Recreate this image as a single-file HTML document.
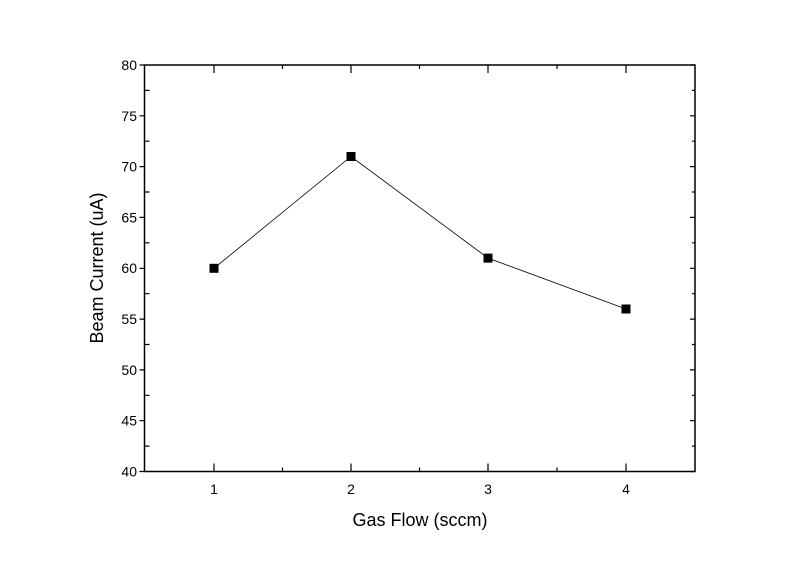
<!DOCTYPE html><html><head><meta charset="utf-8"><style>body{margin:0;background:#fff}svg{display:block}text{font-family:"Liberation Sans",Arial,sans-serif;fill:#000}</style></head><body>
<svg width="807" height="566" viewBox="0 0 807 566">
<rect x="144.5" y="65" width="550.5" height="406.5" fill="none" stroke="#000" stroke-width="1.5"/>
<g stroke="#000" stroke-width="1.2">
<!-- y ticks -->
<path d="M144.5 65h-5M144.5 115.8h-5M144.5 166.6h-5M144.5 217.4h-5M144.5 268.3h-5M144.5 319.1h-5M144.5 369.9h-5M144.5 420.7h-5M144.5 471.5h-5"/>
<path d="M144.5 90.4h5M144.5 141.2h5M144.5 192h5M144.5 242.8h5M144.5 293.7h5M144.5 344.5h5M144.5 395.3h5M144.5 446.1h5"/>
<path d="M695 65h-5M695 115.8h-5M695 166.6h-5M695 217.4h-5M695 268.3h-5M695 319.1h-5M695 369.9h-5M695 420.7h-5M695 471.5h-5"/>
<path d="M695 90.4h-3M695 141.2h-3M695 192h-3M695 242.8h-3M695 293.7h-3M695 344.5h-3M695 395.3h-3M695 446.1h-3"/>
<!-- x ticks -->
<path d="M214 471.5v-8M351 471.5v-8M488 471.5v-8M626 471.5v-8M282.5 471.5v-4M419.5 471.5v-4M557 471.5v-4"/>
<path d="M214 65v8M351 65v8M488 65v8M626 65v8M282.5 65v4M419.5 65v4M557 65v4"/>
</g>
<g font-size="14" text-anchor="end">
<text x="137" y="70">80</text><text x="137" y="121">75</text><text x="137" y="171.5">70</text><text x="137" y="222.5">65</text><text x="137" y="273">60</text><text x="137" y="324">55</text><text x="137" y="375">50</text><text x="137" y="425.5">45</text><text x="137" y="476.5">40</text>
</g>
<g font-size="14" text-anchor="middle">
<text x="214" y="494">1</text><text x="351" y="494">2</text><text x="488" y="494">3</text><text x="626" y="494">4</text>
</g>
<text x="420" y="526" font-size="18" text-anchor="middle">Gas Flow (sccm)</text>
<text transform="translate(103 268) rotate(-90)" font-size="18" text-anchor="middle">Beam Current (uA)</text>
<polyline points="214,268.3 351,156.5 488,258.1 626,309" fill="none" stroke="#000" stroke-width="0.8"/>
<g fill="#000"><rect x="209.5" y="263.8" width="9" height="9"/><rect x="346.5" y="152" width="9" height="9"/><rect x="483.5" y="253.6" width="9" height="9"/><rect x="621.5" y="304.5" width="9" height="9"/></g>
</svg></body></html>
